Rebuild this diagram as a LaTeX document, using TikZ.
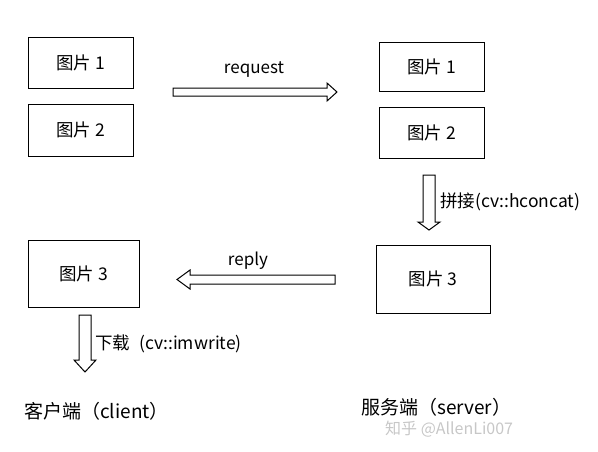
\documentclass[tikz,border=0pt]{standalone}
\usepackage{fontspec}
\setmainfont{Noto Sans CJK SC}
\begin{document}
\begin{tikzpicture}[x=1pt,y=-1pt,
  box/.style={draw=black,line width=0.9pt,inner sep=0pt,font=\fontsize{17.5}{20}\selectfont},
  lbl/.style={inner sep=0pt,font=\fontsize{17}{20}\selectfont},
  blockarrow/.style={draw=black,fill=white,line width=1pt,line join=miter}]
\useasboundingbox (0,0) rectangle (598,451);
% boxes
\node[box,minimum width=105pt,minimum height=51pt] (L1) at (80.5,62.5) {图片 1};
\node[box,minimum width=105pt,minimum height=52pt] (L2) at (80.5,130) {图片 2};
\node[box,minimum width=105pt,minimum height=49pt] (R1) at (431.5,66.5) {图片 1};
\node[box,minimum width=105pt,minimum height=51pt] (R2) at (431.5,132.5) {图片 2};
\node[box,minimum width=111pt,minimum height=67pt] (L3) at (83.5,273.5) {图片 3};
\node[box,minimum width=114pt,minimum height=68pt] (R3) at (433,279) {图片 3};
% request arrow
\draw[blockarrow] (173,88) -- (327,88) -- (327,83) -- (337,92) -- (327,101) -- (327,96) -- (173,96) -- cycle;
\node[lbl,anchor=base] (req) at (254,73) {request};
% concat arrow
\draw[blockarrow] (423,175) -- (435,175) -- (435,222) -- (440,222) -- (429,230) -- (418,222) -- (423,222) -- cycle;
\node[lbl,anchor=base west,font=\fontsize{17.5}{20}\selectfont] (cat) at (440,207) {拼接(cv::hconcat)};
% reply arrow
\draw[blockarrow] (335,275) -- (190,275) -- (190,270) -- (177,279.5) -- (190,289) -- (190,284) -- (335,284) -- cycle;
\node[lbl,anchor=base] (rep) at (248,265) {reply};
% download arrow
\draw[blockarrow] (79,315) -- (91,315) -- (91,360) -- (96,360) -- (85,372) -- (74,360) -- (79,360) -- cycle;
\node[lbl,anchor=base west,font=\fontsize{17.5}{20}\selectfont] (dl) at (95,349) {下载\hspace{0.3em} (cv::imwrite)};
% captions
\node[lbl,anchor=base west,font=\fontsize{19}{22}\selectfont] (client) at (24,418) {客户端（client）};
\node[lbl,anchor=base west,font=\fontsize{19}{22}\selectfont] (server) at (361,414) {服务端（server）};
\node[lbl,anchor=base west,text=black!22,font=\fontsize{16}{19}\selectfont] (wm) at (385,434) {知乎 @AllenLi007};
\end{tikzpicture}
\end{document}
